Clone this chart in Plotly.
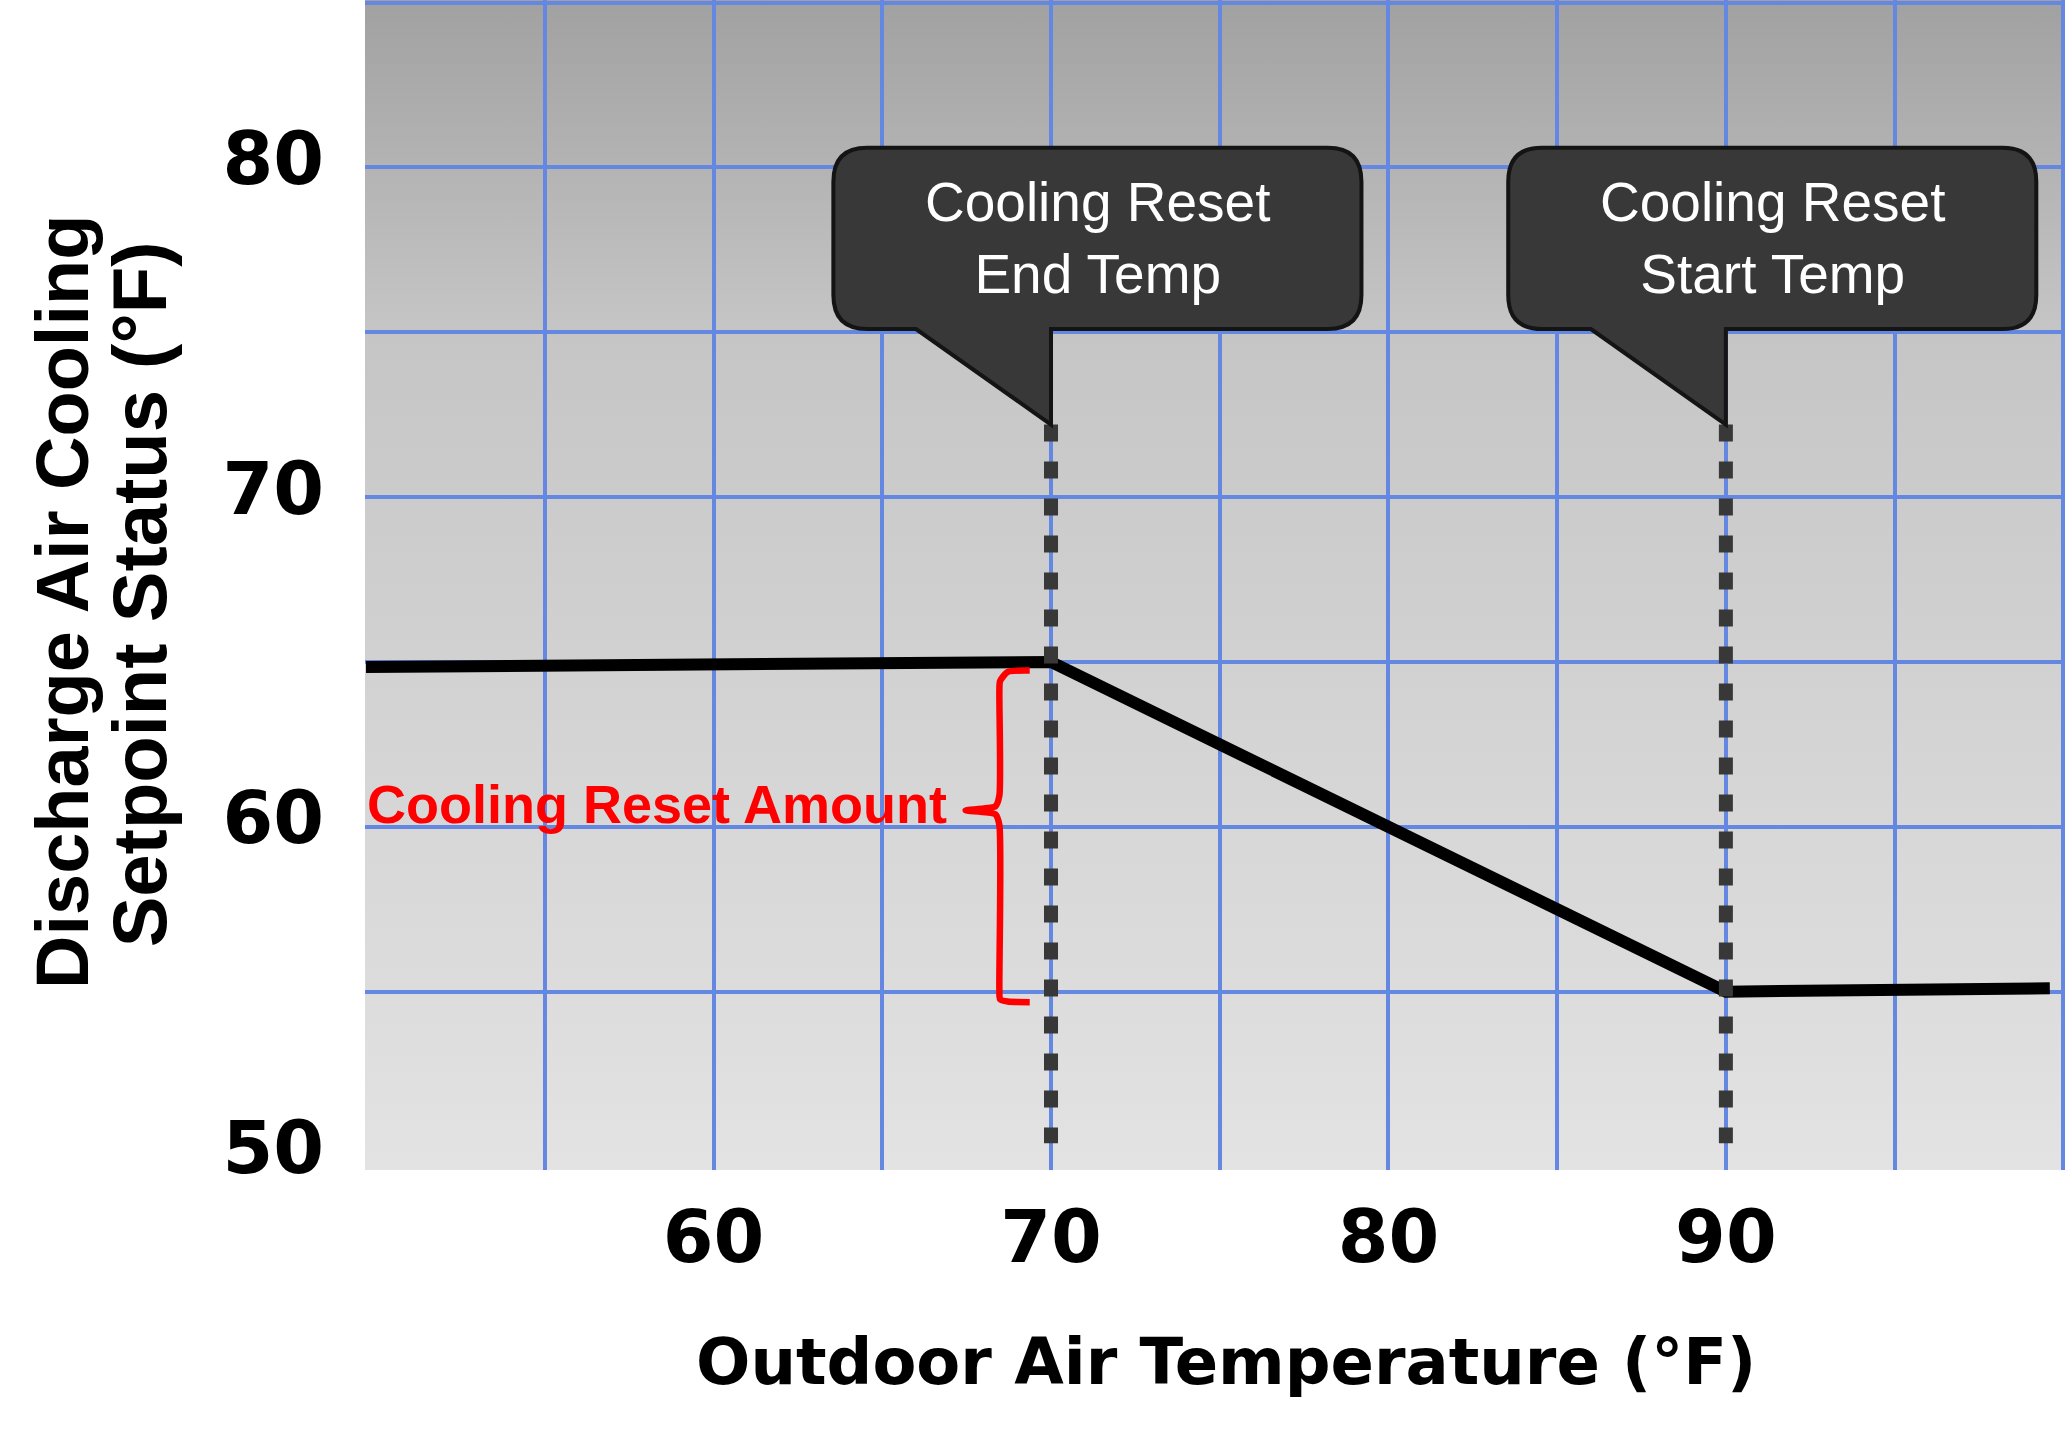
import base64
import plotly.graph_objects as go

# ---- data ----
oat = [49.7, 70, 90, 99.6]            # outdoor air temperature (°F)
dat_sp = [64.85, 65.0, 55.0, 55.1]    # discharge air cooling setpoint (°F)
reset_end_temp = 70
reset_start_temp = 90
reset_high = 65.0
reset_low = 55.0
x_ticks = [60, 70, 80, 90]
y_ticks = [50, 60, 70, 80]
x_grid = [55, 60, 65, 70, 75, 80, 85, 90, 95, 100]
y_grid = [55, 60, 65, 70, 75, 80, 85]
callout_texts = ["Cooling Reset<br>End Temp", "Cooling Reset<br>Start Temp"]
amount_label = "Cooling Reset Amount"

X_RANGE = [49.67, 100.05]
Y_RANGE = [49.59, 85.08]
GRID = "#6487E1"
DARK = "#383838"

fig = go.Figure()

# main setpoint line
fig.add_trace(go.Scatter(x=oat, y=dat_sp, mode="lines",
                         line=dict(color="black", width=12), hoverinfo="skip"))

# dotted marker lines at reset temps
tip_y = 72.2
for t in [reset_end_temp, reset_start_temp]:
    fig.add_trace(go.Scatter(x=[t, t], y=[tip_y, 50.4], mode="lines",
                             line=dict(color=DARK, width=14, dash="17px,20px"),
                             hoverinfo="skip"))

# red brace spanning the reset amount
bx = reset_end_temp - 1.53
top = reset_high - 0.28
bot = reset_low - 0.28
mid = 60.5
brace_x = [bx + 0.9, bx + 0.25, bx + 0.02, bx, bx, bx - 0.12, bx - 1.0,
           bx - 0.12, bx, bx, bx + 0.02, bx + 0.25, bx + 0.9]
brace_y = [top + 0.02, top - 0.02, top - 0.3, top - 0.6, mid + 0.45, mid + 0.12, mid,
           mid - 0.12, mid - 0.45, bot + 0.35, bot + 0.05, bot - 0.02, bot - 0.04]
fig.add_trace(go.Scatter(x=brace_x, y=brace_y, mode="lines",
                         line=dict(color="#FF0000", width=6.5, shape="spline", smoothing=0.6),
                         hoverinfo="skip"))

fig.add_annotation(x=reset_end_temp - 3.03, y=60.68, xref="x", yref="y",
                   text=amount_label, showarrow=False, xanchor="right", yanchor="middle",
                   font=dict(family="Liberation Sans, Arial", size=54, color="#FF0000", weight="bold"))

# callouts
shapes = []
box_top, box_bot = 80.6, 75.1
rx, ry = 1.0, 1.03
for t, txt in zip([reset_end_temp, reset_start_temp], callout_texts):
    x0, x1 = t - 6.45, t + 9.2
    y0, y1 = box_bot, box_top
    path = (f"M {x0+rx},{y1} L {x1-rx},{y1} Q {x1},{y1} {x1},{y1-ry} "
            f"L {x1},{y0+ry} Q {x1},{y0} {x1-rx},{y0} L {t},{y0} L {t},{tip_y} "
            f"L {t-4.0},{y0} L {x0+rx},{y0} Q {x0},{y0} {x0},{y0+ry} "
            f"L {x0},{y1-ry} Q {x0},{y1} {x0+rx},{y1} Z")
    shapes.append(dict(type="path", path=path, xref="x", yref="y", layer="above",
                       fillcolor=DARK, line=dict(color="#141414", width=4)))
    fig.add_annotation(x=(x0 + x1) / 2, y=(y0 + y1) / 2, xref="x", yref="y",
                       text=txt, showarrow=False, xanchor="center", yanchor="middle",
                       font=dict(family="Liberation Sans, Arial", size=55, color="white"))

# gradient background as inline svg
svg = ('<svg xmlns="http://www.w3.org/2000/svg" width="10" height="100" viewBox="0 0 10 100" '
       'preserveAspectRatio="none"><defs><linearGradient id="g" x1="0" y1="0" x2="0" y2="1">'
       '<stop offset="0" stop-color="#A1A1A1"/><stop offset="0.14" stop-color="#B3B3B3"/>'
       '<stop offset="0.28" stop-color="#C5C5C5"/><stop offset="0.42" stop-color="#CBCBCB"/>'
       '<stop offset="0.56" stop-color="#D1D1D1"/><stop offset="0.70" stop-color="#D7D7D7"/>'
       '<stop offset="0.84" stop-color="#DCDCDC"/><stop offset="1" stop-color="#E3E3E3"/>'
       '</linearGradient></defs><rect x="0" y="0" width="10" height="100" fill="url(#g)"/></svg>')
src = "data:image/svg+xml;base64," + base64.b64encode(svg.encode()).decode()

tick_font = dict(family="DejaVu Sans", size=73, color="black", weight="bold")

fig.update_layout(
    width=2069, height=1435,
    margin=dict(l=365, r=4, t=0, b=265),
    paper_bgcolor="white", plot_bgcolor="rgba(0,0,0,0)",
    showlegend=False,
    shapes=shapes,
    images=[dict(source=src, xref="paper", yref="paper", x=0, y=1, sizex=1, sizey=1,
                 xanchor="left", yanchor="top", sizing="stretch", layer="below")],
    xaxis=dict(range=X_RANGE, tickmode="array", tickvals=x_ticks,
               ticktext=[str(v) for v in x_ticks], tickfont=tick_font,
               showgrid=False, zeroline=False, showline=False, ticks="",
               ticklabelstandoff=18,
               minor=dict(tickmode="array", tickvals=x_grid, showgrid=True,
                          gridcolor=GRID, gridwidth=4, ticks="")),
    yaxis=dict(range=Y_RANGE, tickmode="array", tickvals=y_ticks,
               ticktext=[str(v) for v in y_ticks], tickfont=tick_font,
               showgrid=False, zeroline=False, showline=False, ticks="",
               ticklabelstandoff=40, ticklabelshift=-9,
               minor=dict(tickmode="array", tickvals=y_grid, showgrid=True,
                          gridcolor=GRID, gridwidth=4, ticks="")),
)

# axis titles
fig.add_annotation(x=0.5, y=0, xref="paper", yref="paper", xshift=11, yshift=-192,
                   text="Outdoor Air Temperature (°F)", showarrow=False,
                   xanchor="center", yanchor="middle",
                   font=dict(family="DejaVu Sans", size=64, color="black", weight="bold"))
fig.add_annotation(x=0, y=0.4855, xref="paper", yref="paper", xshift=-302,
                   text="Discharge Air Cooling", showarrow=False, textangle=-90,
                   xanchor="center", yanchor="middle",
                   font=dict(family="Liberation Sans, Arial", size=74, color="black", weight="bold"))
fig.add_annotation(x=0, y=0.492, xref="paper", yref="paper", xshift=-226,
                   text="Setpoint Status (°F)", showarrow=False, textangle=-90,
                   xanchor="center", yanchor="middle",
                   font=dict(family="Liberation Sans, Arial", size=76, color="black", weight="bold"))

fig.write_html("out.html")
